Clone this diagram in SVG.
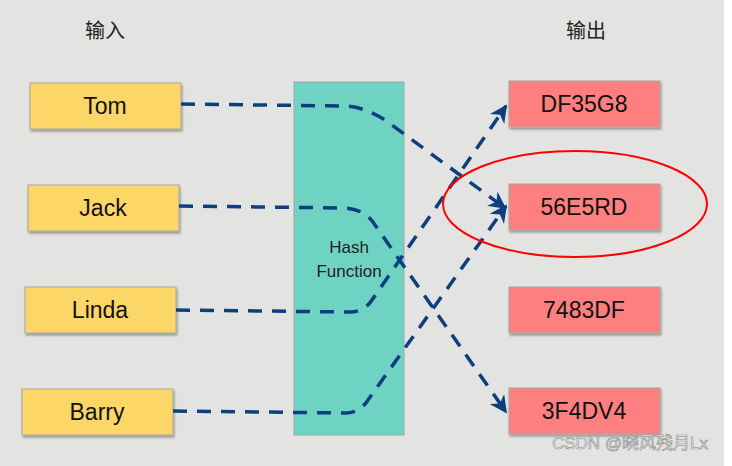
<svg xmlns="http://www.w3.org/2000/svg" width="732" height="466" viewBox="0 0 732 466">
<defs>
<marker id="ah" viewBox="0 0 10 10" refX="9" refY="5" markerWidth="5" markerHeight="5" orient="auto"><path d="M0,0 L10,5 L0,10 L3,5 Z" fill="#0d3f7e"/></marker>
<filter id="sh" x="-10%" y="-10%" width="120%" height="130%"><feDropShadow dx="1" dy="2" stdDeviation="1.2" flood-color="#000" flood-opacity="0.35"/></filter>
</defs>
<style>
.in{fill:#fcd666;stroke:#a8a8a0;stroke-width:1;filter:url(#sh)}
.out{fill:#fd7f7f;stroke:#a8a8a0;stroke-width:1;filter:url(#sh)}
.t{font-family:"Liberation Sans",Arial,sans-serif;font-size:23px;fill:#111;text-anchor:middle}
.h{font-family:"Noto Sans CJK SC",sans-serif;font-size:20px;fill:#222;text-anchor:middle}
.c{fill:none;stroke:#0d3f7e;stroke-width:3.5;stroke-dasharray:14 10;marker-end:url(#ah)}
</style>
<rect width="732" height="466" fill="#fff"/>
<rect width="724" height="466" fill="#e3e3e1"/>
<text class="h" x="105" y="38">输入</text>
<text class="h" x="586" y="38">输出</text>
<g id="hash"><rect x="294" y="82" width="110" height="353" fill="#6fd3c4" stroke="#9aa" stroke-width="1"/>
<text x="349" y="253" font-family="Liberation Sans,Arial,sans-serif" font-size="17" fill="#222" text-anchor="middle">Hash</text>
<text x="349" y="277" font-family="Liberation Sans,Arial,sans-serif" font-size="17" fill="#222" text-anchor="middle">Function</text></g>
<g id="tom"><rect class="in" x="30" y="83" width="151" height="46"/><text class="t" x="105" y="114">Tom</text></g>
<g id="jack"><rect class="in" x="28" y="185" width="151" height="46"/><text class="t" x="103" y="216">Jack</text></g>
<g id="linda"><rect class="in" x="25" y="287" width="151" height="46"/><text class="t" x="100" y="318">Linda</text></g>
<g id="barry"><rect class="in" x="22" y="389" width="151" height="46"/><text class="t" x="97" y="420">Barry</text></g>
<g id="o1"><rect class="out" x="509" y="81" width="151" height="46"/><text class="t" x="584" y="112">DF35G8</text></g>
<g id="o2"><rect class="out" x="509" y="184" width="151" height="46"/><text class="t" x="584" y="215">56E5RD</text></g>
<g id="o3"><rect class="out" x="509" y="287" width="151" height="46"/><text class="t" x="584" y="318">7483DF</text></g>
<g id="o4"><rect class="out" x="509" y="388" width="151" height="46"/><text class="t" x="584" y="419">3F4DV4</text></g>
<g id="connectors">
<path class="c" d="M181,104 L345,106 Q365,107 385,120 L505,208"/>
<path class="c" d="M179,206 L345,208 Q365,209 375,225 L506,412"/>
<path class="c" d="M176,310 L350,312 Q364,312 372,300 L506,106"/>
<path class="c" d="M173,411 L345,413 Q360,413 368,400 L506,206"/>
</g>
<ellipse cx="575" cy="204" rx="132" ry="53" fill="none" stroke="#f00" stroke-width="2"/>
<text x="630" y="449" font-family="Liberation Sans,'Noto Sans CJK SC',sans-serif" font-size="17" fill="#f2f2f2" stroke="#8a8a8a" stroke-width="0.6" text-anchor="middle">CSDN @晓风残月Lx</text>
</svg>
